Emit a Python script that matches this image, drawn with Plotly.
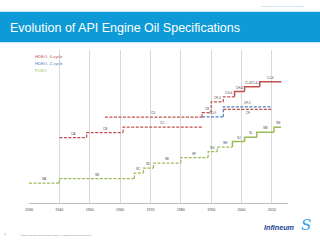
import plotly.graph_objects as go

# ---------------- data ----------------
years_ticks = [1930, 1940, 1950, 1960, 1970, 1980, 1990, 2000, 2010]

pceo_names = ["SA", "SB", "SC", "SD", "SE", "SF", "SG", "SH", "SJ", "SL", "SM", "SN"]
pceo_start = [1930, 1940, 1964.7, 1967.7, 1971, 1980, 1989, 1992, 1997, 2001, 2005, 2010.7]
pceo_end = [1940, 1964.7, 1967.7, 1971, 1980, 1989, 1992, 1997, 2001, 2005, 2010.7, 2013]
pceo_level = [20, 24.5, 30, 35, 40, 45.5, 51.5, 56, 61.5, 66, 71, 76]
pceo_solid = [False] * 8 + [True] * 4

hd4_names = ["CA", "CB", "CC", "CD", "CE", "CF-4", "CG-4", "CH-4", "CI-4/CI-4+", "CJ-4", "CF"]
hd4_start = [1940, 1949, 1961, 1955, 1987, 1990, 1994, 1997.7, 2001, 2006, 1994]
hd4_end = [1949, 1961, 1987, 1987, 1990, 1994, 1997.7, 2001, 2006, 2013.1, 2010]
hd4_level = [65.6, 70.6, 76, 86, 90.6, 101.3, 106.4, 111.6, 116.6, 121.6, 93.8]
hd4_prev = [None, 0, 1, None, 3, 4, 5, 6, 7, 8, None]
hd4_solid = [False] * 7 + [True] * 3 + [False]
hd4_label_below = [False] * 10 + [True]

hd2_names = ["CD-II", "CF-2"]
hd2_start = [1987, 1994]
hd2_end = [1994, 2010]
hd2_level = [86.3, 96.3]
hd2_prev = [None, 0]

series_names = ["HDEO, 4-cycle", "HDEO, 2-cycle", "PCEO"]
series_colors = ["#c0504d", "#4f81bd", "#9bbb59"]

# ---------------- layout helpers (pixel -> paper) ----------------
W, H = 320, 240
L, R, T, B = 29, 32.3, 50, 36.7
PW, PH = W - L - R, H - T - B


def fx(px):
    return (px - L) / PW


def fy(py):
    return (H - B - py) / PH


fig = go.Figure()
annotations = []


def add_family(names, starts, ends, levels, prevs, solids, color, below=None):
    for i, n in enumerate(names):
        if prevs[i] is not None:
            xs = [starts[i], starts[i], ends[i]]
            ys = [levels[prevs[i]], levels[i], levels[i]]
        else:
            xs = [starts[i], ends[i]]
            ys = [levels[i], levels[i]]
        solid = solids[i]
        fig.add_trace(go.Scatter(
            x=xs, y=ys, mode="lines", showlegend=False, hoverinfo="skip",
            line=dict(color=color, width=1.5 if solid else 1.2,
                      dash="solid" if solid else "3px,1.5px")))
        lb = below[i] if below else False
        annotations.append(dict(
            x=(starts[i] + ends[i]) / 2, y=levels[i], xref="x", yref="y",
            text=n, showarrow=False, yshift=-3.5 if lb else 3.8,
            font=dict(size=3, color="#404040", family="Liberation Sans")))


add_family(pceo_names, pceo_start, pceo_end, pceo_level,
           [None] + list(range(len(pceo_names) - 1)), pceo_solid, series_colors[2])
add_family(hd4_names, hd4_start, hd4_end, hd4_level, hd4_prev, hd4_solid,
           series_colors[0], hd4_label_below)
add_family(hd2_names, hd2_start, hd2_end, hd2_level, hd2_prev, [False, False],
           series_colors[1])

# legend text
for i, (n, c) in enumerate(zip(series_names, series_colors)):
    annotations.append(dict(x=fx(32.5), y=fy(56.5 + 6.8 * i), xref="paper", yref="paper",
                            text=n, showarrow=False, xanchor="left", yanchor="middle",
                            font=dict(size=4.2, color=c, family="Liberation Sans")))

# title, header text, footer, logo
annotations += [
    dict(x=fx(8), y=fy(28.3), xref="paper", yref="paper", text="Evolution of API Engine Oil Specifications",
         showarrow=False, xanchor="left", yanchor="middle",
         font=dict(size=12.5, color="white", family="Liberation Sans")),
    dict(x=fx(306), y=fy(6), xref="paper", yref="paper", text="Performance keeps your world moving",
         showarrow=False, xanchor="right", yanchor="middle",
         font=dict(size=2.5, color="#7fb7d9", family="Liberation Sans")),
    dict(x=fx(2), y=fy(235.5), xref="paper", yref="paper", text="7",
         showarrow=False, xanchor="left", yanchor="middle",
         font=dict(size=3.5, color="#7f7f7f", family="Liberation Sans")),
    dict(x=fx(17), y=fy(236), xref="paper", yref="paper",
         text="© 2020 Infineum International Limited. All Rights Reserved. 2017189",
         showarrow=False, xanchor="left", yanchor="middle",
         font=dict(size=2.4, color="#7f7f7f", family="Liberation Sans")),
    dict(x=fx(262), y=fy(228), xref="paper", yref="paper", text="<b><i>Infineum</i></b>",
         showarrow=False, xanchor="left", yanchor="middle",
         font=dict(size=7.2, color="#1d3f8e", family="Liberation Sans")),
    dict(x=fx(299), y=fy(225), xref="paper", yref="paper", text="<i>S</i>",
         showarrow=False, xanchor="left", yanchor="middle",
         font=dict(size=15, color="#2ea3dd", family="DejaVu Serif")),
]

shapes = [
    dict(type="rect", xref="paper", yref="paper", x0=fx(0), x1=fx(W), y0=fy(42.3), y1=fy(11.7),
         fillcolor="#0e9ad7", line=dict(width=0), layer="above"),
    dict(type="rect", xref="paper", yref="paper", x0=fx(30.5), x1=fx(86), y0=fy(80), y1=fy(50),
         fillcolor="white", line=dict(width=0), layer="between"),
]

fig.update_layout(
    width=W, height=H,
    margin=dict(l=L, r=R, t=T, b=B),
    paper_bgcolor="white", plot_bgcolor="white",
    showlegend=False,
    annotations=annotations,
    shapes=shapes,
    xaxis=dict(range=[1930, 2015.3], tickvals=years_ticks, showgrid=True,
               gridcolor="#d9d9d9", gridwidth=0.8, showline=True, linecolor="#bfbfbf",
               linewidth=1, zeroline=False, ticks="outside", ticklen=3,
               tickcolor="rgba(0,0,0,0)",
               tickfont=dict(size=3.6, color="#404040", family="Liberation Sans")),
    yaxis=dict(range=[0, PH], showgrid=False, showline=False, zeroline=False,
               showticklabels=False, ticks=""),
)

fig.write_html("out.html")
